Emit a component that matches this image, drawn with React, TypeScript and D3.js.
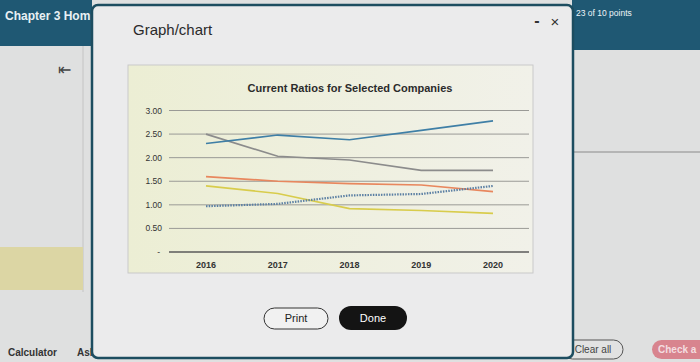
import React from 'react';
import * as d3 from 'd3';

// data
const years = ['2016', '2017', '2018', '2019', '2020'];
const blueSeries = [2.3, 2.48, 2.38, 2.58, 2.78];
const graySeries = [2.5, 2.03, 1.95, 1.73, 1.73];
const orangeSeries = [1.6, 1.5, 1.45, 1.42, 1.28];
const yellowSeries = [1.4, 1.24, 0.92, 0.88, 0.82];
const dottedSeries = [0.97, 1.02, 1.2, 1.23, 1.4];
const yTicks = [0.5, 1, 1.5, 2, 2.5, 3];

const W = 700;
const H = 362;

const App = () => {
  const x = d3.scalePoint<string>().domain(years).range([206, 493]);
  const y = d3.scaleLinear().domain([0, 3]).range([252, 110.5]);
  const line = d3
    .line<number>()
    .x((d, i) => x(years[i]) as number)
    .y(d => y(d));

  const series = [
    {vals: graySeries, color: '#8c8c8c', dash: ''},
    {vals: orangeSeries, color: '#e8875e', dash: ''},
    {vals: yellowSeries, color: '#d8cc4c', dash: ''},
    {vals: dottedSeries, color: '#5b7fa3', dash: '1.5,1.2'},
    {vals: blueSeries, color: '#3f7fa6', dash: ''},
  ];

  const font = '"Liberation Sans", Arial, sans-serif';

  return (
    <svg
      width={W}
      height={H}
      style={{position: 'fixed', left: 0, top: 0, fontFamily: font}}
    >
      <defs>
        <linearGradient id="plotBg" x1="0" x2="1" y1="0" y2="0">
          <stop offset="0" stopColor="#eceed4" />
          <stop offset="1" stopColor="#f1f1e9" />
        </linearGradient>
      </defs>
      {/* page behind the modal */}
      <rect width={W} height={H} fill="#dfe0e0" />
      <rect x={0} y={0} width={92} height={46} fill="#1f5873" />
      <text x={5} y={20} fill="#e8f0f4" fontSize={12} fontWeight="bold">Chapter 3 Hom</text>
      <line x1={83} x2={83} y1={46} y2={292} stroke="#c4c4c4" />
      <rect x={0} y={247} width={83} height={43} fill="#dcd6a4" />
      <text x={64} y={75} fontSize={16} fill="#444" textAnchor="middle">⇤</text>
      <rect x={572} y={0} width={128} height={50} fill="#1f5873" />
      <text x={576} y={16} fill="#eef4f8" fontSize={8.5}>23 of 10 points</text>
      <line x1={574} x2={700} y1={152} y2={152} stroke="#8a8a8a" />
      <text x={8} y={356} fontSize={10} fontWeight="bold" fill="#333">Calculator</text>
      <text x={77} y={356} fontSize={10} fontWeight="bold" fill="#333">Ask</text>
      <rect x={563} y={340} width={60} height={19} rx={9.5} fill="#e2e2e2" stroke="#555" />
      <text x={593} y={353} fontSize={10} textAnchor="middle" fill="#444">Clear all</text>
      <rect x={652} y={340} width={60} height={19} rx={9.5} fill="#d8848e" />
      <text x={658} y={353} fontSize={10} fontWeight="bold" fill="#f4dde0">Check a</text>

      {/* modal */}
      <rect x={92} y={5} width={481} height={353} rx={6} fill="#ebebec" stroke="#1d4d60" strokeWidth={2.5} />
      <text x={133} y={35} fontSize={15} fill="#2a2a2a">Graph/chart</text>
      <text x={537} y={26} fontSize={16} fontWeight="bold" fill="#333" textAnchor="middle">-</text>
      <text x={555} y={27} fontSize={15} fill="#333" textAnchor="middle">×</text>

      {/* chart area */}
      <rect x={128} y={65} width={405} height={208} fill="url(#plotBg)" stroke="#c9c9c9" />
      <text x={350} y={92} fontSize={11} fontWeight="bold" textAnchor="middle" fill="#2b2b2b">
        Current Ratios for Selected Companies
      </text>
      {yTicks.map(t => (
        <g key={t}>
          <line x1={169} x2={529} y1={y(t)} y2={y(t)} stroke="#9a9a96" strokeWidth={1} />
          <text x={162} y={y(t) + 3} fontSize={8.5} textAnchor="end" fill="#333">
            {d3.format('.2f')(t)}
          </text>
        </g>
      ))}
      <line x1={169} x2={529} y1={y(0)} y2={y(0)} stroke="#5a5a5a" strokeWidth={1.5} />
      <text x={160} y={y(0) + 3} fontSize={8.5} textAnchor="end" fill="#333">-</text>
      {years.map(yr => (
        <text key={yr} x={x(yr)} y={268} fontSize={9} fontWeight="bold" textAnchor="middle" fill="#333">
          {yr}
        </text>
      ))}
      {series.map((s, i) => (
        <path
          key={i}
          d={line(s.vals) || ''}
          fill="none"
          stroke={s.color}
          strokeWidth={s.dash ? 2.2 : 1.7}
          strokeDasharray={s.dash || undefined}
        />
      ))}

      {/* buttons */}
      <rect x={264} y={308} width={64} height={21} rx={10.5} fill="#f1f1f1" stroke="#333" />
      <text x={296} y={322} fontSize={11} textAnchor="middle" fill="#222">Print</text>
      <rect x={339} y={306} width={68} height={24} rx={12} fill="#141414" />
      <text x={373} y={322} fontSize={11} textAnchor="middle" fill="#fff">Done</text>
    </svg>
  );
};

export default App;
